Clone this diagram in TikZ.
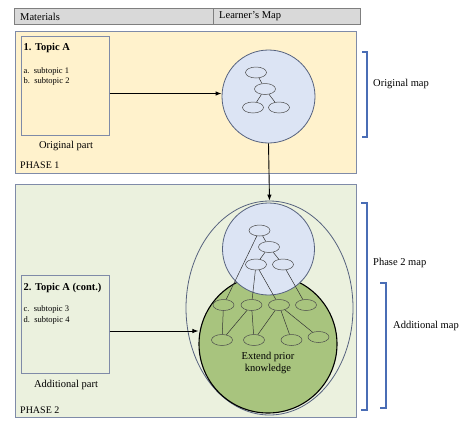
\documentclass[tikz,border=0pt]{standalone}
\usepackage{fontspec}
\setmainfont{Liberation Serif}
\usetikzlibrary{shapes.geometric,arrows.meta}
\definecolor{hdrfill}{HTML}{D9D9D9}
\definecolor{hdrline}{HTML}{7F7F7F}
\definecolor{ph1fill}{HTML}{FFF2CC}
\definecolor{ph2fill}{HTML}{EBF1DE}
\definecolor{boxline}{HTML}{7F8BA8}
\definecolor{bluefill}{HTML}{DCE4F4}
\definecolor{blueline}{HTML}{56627E}
\definecolor{greenfill}{HTML}{A8C47E}
\definecolor{brk}{HTML}{4A6DB5}
\tikzset{
  phasebox/.style={draw=boxline, line width=1pt},
  topicbox/.style={draw=boxline, line width=1pt, rectangle, inner sep=0pt},
  mapcircle/.style={circle, draw=blueline, fill=bluefill, line width=0.8pt, inner sep=0pt},
  cnode/.style={ellipse, draw=black!70, line width=0.5pt, minimum width=21pt, minimum height=11pt, inner sep=0pt},
  edge/.style={draw=black!80, line width=0.5pt},
  arr/.style={-{Latex[length=6pt,width=4.5pt]}, line width=0.9pt},
  bracket/.style={draw=brk, line width=1.3pt},
  lbl/.style={font=\fontsize{10.5}{12}\selectfont, inner sep=0pt},
  small/.style={font=\fontsize{8.5}{9.5}\selectfont, inner sep=0pt, anchor=west},
}
\begin{document}
\begin{tikzpicture}[x=1pt,y=-1pt]
\useasboundingbox (0,0) rectangle (474,429);
% header
\draw[fill=hdrfill, draw=hdrline, line width=0.9pt] (14,8) rectangle (360,24);
\draw[draw=hdrline, line width=0.6pt] (213,8) -- (213,24);
\node[lbl, anchor=west] (hmat) at (20,16.5) {Materials};
\node[lbl, anchor=west] (hmap) at (219,16.5) {Learner’s Map};
% phase boxes
\draw[phasebox, fill=ph1fill] (15,31) rectangle (356,173);
\draw[phasebox, fill=ph2fill] (15,184) rectangle (356,417);
\node[lbl, anchor=west, font=\fontsize{10}{12}\selectfont] (p1) at (20,165) {PHASE 1};
\node[lbl, anchor=west, font=\fontsize{10}{12}\selectfont] (p2) at (20,410) {PHASE 2};
% topic boxes
\node[topicbox, fill=ph1fill, minimum width=88pt, minimum height=99pt] (topA) at (65,85.5) {};
\node[small, font=\fontsize{10.5}{12}\selectfont\bfseries] (tA) at (23.5,48) {1. Topic A};
\node[small] (sa) at (23.5,71) {a.\enspace subtopic 1};
\node[small] (sb) at (23.5,81) {b.\enspace subtopic 2};
\node[lbl, font=\fontsize{10.5}{12}\selectfont] (op) at (66,146) {Original part};
\node[topicbox, fill=ph2fill, minimum width=88pt, minimum height=98pt] (topB) at (65,324) {};
\node[small, font=\fontsize{10.5}{12}\selectfont\bfseries] (tB) at (23.5,288) {2. Topic A (cont.)};
\node[small] (sc) at (23.5,309) {c.\enspace subtopic 3};
\node[small] (sd) at (23.5,320) {d.\enspace subtopic 4};
\node[lbl, font=\fontsize{10.5}{12}\selectfont] (ap) at (66,385) {Additional part};
% phase 1 map
\node[mapcircle, minimum size=93pt] (c1) at (268.5,96.5) {};
\node[cnode] (a1) at (256,72.5) {};
\node[cnode] (a2) at (265,89) {};
\node[cnode] (a3) at (253,107.5) {};
\node[cnode] (a4) at (279,107.5) {};
\draw[edge] (a1) -- (a2);
\draw[edge] (a2) -- (a3);
\draw[edge] (a2) -- (a4);
% phase 2 map
\node[ellipse, draw=blueline, line width=0.8pt, minimum width=167pt, minimum height=214pt, inner sep=0pt] (big) at (269.5,308) {};
\node[circle, draw=black, fill=greenfill, line width=1.1pt, minimum size=138pt, inner sep=0pt] (gc) at (268,344) {};
\node[mapcircle, minimum size=92pt] (c2) at (268.5,249) {};
\node[cnode] (b1) at (259.5,230.5) {};
\node[cnode] (b2) at (269,247) {};
\node[cnode] (b3) at (256,264.5) {};
\node[cnode] (b4) at (283,264.5) {};
\node[cnode] (g1) at (223.5,305) {};
\node[cnode] (g2) at (251.5,305) {};
\node[cnode] (g3) at (279,305) {};
\node[cnode] (g4) at (306,305) {};
\node[cnode] (h1) at (222,340) {};
\node[cnode] (h2) at (254,340) {};
\node[cnode] (h3) at (291.5,340) {};
\node[cnode] (h4) at (318.5,337) {};
\draw[edge] (b1) -- (b2);
\draw[edge] (b2) -- (b3);
\draw[edge] (b2) -- (b4);
\draw[edge] (b1) -- (g1);
\draw[edge] (b3) -- (g2);
\draw[edge] (b3) -- (g3);
\draw[edge] (b4) -- (g4);
\draw[edge] (g1) -- (h1);
\draw[edge] (g2) -- (h1);
\draw[edge] (g2) -- (h2);
\draw[edge] (g3) -- (h2);
\draw[edge] (g3) -- (h3);
\draw[edge] (g3) -- (h4);
\node[lbl, font=\fontsize{10.5}{12}\selectfont, align=center] (ext) at (268,363) {Extend prior\\knowledge};
% arrows
\draw[arr] (topA.east |- 0,93.5) -- (c1.west |- 0,93.5);
\draw[arr] (c1.south) -- (big.north);
\draw[arr] (topB.east |- 0,331) -- (gc.west |- 0,331);
% brackets
\draw[bracket] (362,52) -- (367,52) -- (367,137) -- (362,137);
\draw[bracket] (361,203) -- (367,203) -- (367,410) -- (361,410);
\draw[bracket] (380,283) -- (386,283) -- (386,408) -- (380,408);
\node[lbl, anchor=west] (om) at (373,84) {Original map};
\node[lbl, anchor=west] (pm) at (373,263) {Phase 2 map};
\node[lbl, anchor=west] (am) at (393,326) {Additional map};
\end{tikzpicture}
\end{document}
